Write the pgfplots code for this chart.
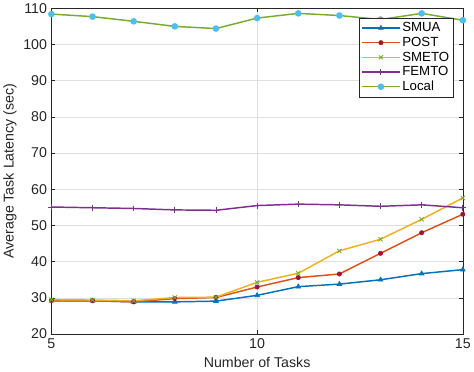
\documentclass[border=0pt]{standalone}
\usepackage{fontspec}
\setmainfont{Liberation Sans}
\usepackage{pgfplots}
\pgfplotsset{compat=1.18}
\definecolor{mblue}{rgb}{0,0.447,0.741}
\definecolor{morange}{rgb}{0.85,0.325,0.098}
\definecolor{mdred}{rgb}{0.635,0.078,0.184}
\definecolor{myellow}{rgb}{0.929,0.694,0.125}
\definecolor{mgreen}{rgb}{0.466,0.674,0.188}
\definecolor{mpurple}{rgb}{0.494,0.184,0.556}
\definecolor{mcyan}{rgb}{0.301,0.745,0.933}
\definecolor{axgray}{rgb}{0.15,0.15,0.15}
\begin{document}
\begin{tikzpicture}[x=1bp,y=1bp]
\begin{axis}[
  scale only axis,
  width=418bp, height=331bp,
  xmin=5, xmax=15, ymin=20, ymax=110,
  xtick={5,10,15}, ytick={20,30,...,110},
  tick align=inside,
  major tick length=4bp,
  axis line style={axgray, line width=0.5pt},
  tick style={axgray, line width=0.5pt},
  grid=major,
  grid style={gray!25, line width=0.6pt},
  font=\fontsize{14.5}{16}\selectfont,
  tick label style={font=\fontsize{14.5}{16}\selectfont, text=axgray},
  yticklabel style={xshift=-1bp},
  xticklabel style={yshift=-1bp},
  /pgf/number format/assume math mode=true,
  xlabel={Number of Tasks},
  ylabel={Average Task Latency (sec)},
  xlabel style={text=axgray, yshift=-2bp},
  ylabel style={text=axgray, yshift=0bp},
  legend cell align=left,
  legend style={at={(rel axis cs:0.978,0.970)}, anchor=north east,
    font=\fontsize{13.5}{15}\selectfont, draw=axgray, fill=white,
    row sep=0bp, inner sep=2.5bp},
  legend image code/.code={
    \draw[mark repeat=2,mark phase=2,#1] plot coordinates {(0bp,0bp) (19bp,0bp) (38bp,0bp)};
  },
]
\addplot[mblue, line width=1.5pt, mark=triangle*, mark size=2.8pt, mark options={solid, fill=mblue, line width=0.6pt}]
coordinates {(5,29.2)(6,29.2)(7,28.9)(8,28.9)(9,29.1)(10,30.7)(11,33.1)(12,33.8)(13,35.0)(14,36.7)(15,37.8)};
\addlegendentry{SMUA}
\addplot[morange, line width=1.5pt, mark=*, mark size=2.2pt, mark options={solid, draw=mdred, fill=mdred, line width=0.6pt}]
coordinates {(5,29.3)(6,29.2)(7,28.9)(8,29.8)(9,30.1)(10,33.0)(11,35.6)(12,36.6)(13,42.3)(14,48.0)(15,53.1)};
\addlegendentry{POST}
\addplot[myellow, line width=1.5pt, mark=x, mark size=3pt, mark options={solid, draw=mgreen, line width=0.9pt}]
coordinates {(5,29.5)(6,29.4)(7,29.2)(8,30.1)(9,30.2)(10,34.3)(11,36.8)(12,43.0)(13,46.2)(14,51.7)(15,57.6)};
\addlegendentry{SMETO}
\addplot[mpurple, line width=1.5pt, mark=+, mark size=3pt, mark options={solid, line width=0.9pt}]
coordinates {(5,55.1)(6,54.9)(7,54.7)(8,54.3)(9,54.2)(10,55.5)(11,55.9)(12,55.7)(13,55.3)(14,55.7)(15,54.9)};
\addlegendentry{FEMTO}
\addplot[mgreen, line width=1.5pt, mark=*, mark size=2.6pt, mark options={solid, draw=mcyan, fill=mcyan}]
coordinates {(5,108.4)(6,107.7)(7,106.4)(8,105.0)(9,104.4)(10,107.3)(11,108.6)(12,108.0)(13,106.9)(14,108.6)(15,106.7)};
\addlegendentry{Local}
\end{axis}
\end{tikzpicture}
\end{document}
